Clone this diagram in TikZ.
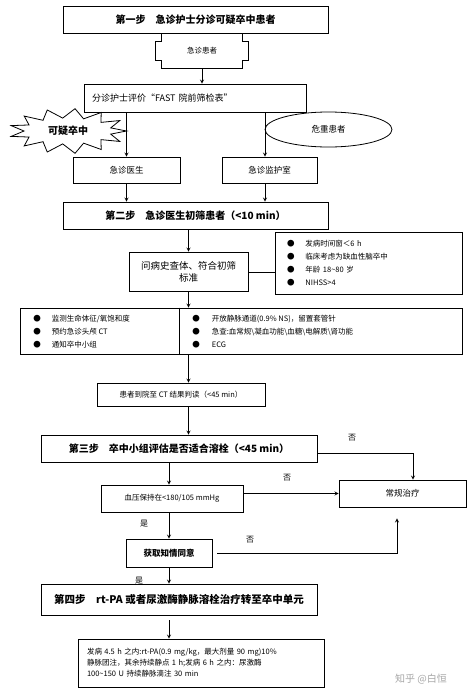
\documentclass[tikz,border=0pt]{standalone}
\usepackage{fontspec}
\setmainfont{Noto Sans CJK SC}
\usetikzlibrary{positioning}
\usetikzlibrary{calc}
\usetikzlibrary{arrows}
\usetikzlibrary{shapes.geometric}
\tikzset{
  box/.style            = { rectangle, inner sep=0pt },
  border/.style         = { line width=0.8pt, draw=black },
  big/.style            = { font=\fontsize{10}{12}\selectfont\bfseries },
  mid/.style            = { font=\fontsize{8.5}{11}\selectfont },
  small/.style          = { font=\fontsize{7.5}{10}\selectfont },
}
\tikzset{
  stage/.style          = { box, border, big },
  plain/.style          = { box, border, mid },
  note/.style           = { box, border, small },
  listing/.style        = { box, font=\fontsize{7.5}{13}\selectfont, align=left },
  answer/.style         = { font=\fontsize{8}{10}\selectfont },
}

\begin{document}
\begin{tikzpicture}[
  x=1pt,y=-1pt,
  >=stealth,line width=0.8pt,black,text=black
]
  \useasboundingbox (0,0) rectangle (474,699);

  % step one
  \node (step1) [stage,minimum width=265pt,minimum height=27pt] at (195.5,19.5)
        {第一步\quad 急诊护士分诊可疑卒中患者};
  \node (pat)   [box,small,minimum width=80pt,minimum height=34pt] at (202,51) {急诊患者};
  \draw [border] (pat.north west) -- (pat.north east) -- ++(0,8) -- ++(6,0)
        -- ($(pat.south east)+(6,-8)$) -- ++(-6,0) -- (pat.south east)
        -- (pat.south west) -- ++(0,-8) -- ++(-6,0)
        -- ($(pat.north west)+(-6,8)$) -- ++(6,0) -- cycle;
  \node (eval)  [plain,font=\fontsize{9}{11}\selectfont,text width=206pt,inner xsep=8pt,
                 minimum height=28pt,align=left] at (195,98)
        {分诊护士评价“FAST 院前筛检表”};
  \node (doc)   [plain,minimum width=107pt,minimum height=26pt] at (126.5,170) {急诊医生};
  \node (icu)   [plain,minimum width=95pt,minimum height=26pt] at (269.5,170) {急诊监护室};
  \node (susp)  [big] at (68,131) {可疑卒中};
  \draw [border] ($(susp)+(0:58.5pt and 22.5pt)$)
        \foreach \i in {0,...,12} {
          -- ($(susp)+({(\i+0.5)*360/13}:44pt and 13pt)$)
          -- ($(susp)+({(\i+1)*360/13}:58.5pt and 22.5pt)$)
        } -- cycle;
  \node (crit)  [ellipse,border,mid,minimum width=127pt,minimum height=35pt] at (328.5,129.5) {危重患者};

  \draw [->] (pat.south) -- (pat.south |- eval.north);
  \draw [->] (eval.south -| doc) -- (doc.north);
  \draw [->] ([xshift=-4.5pt]icu.north |- eval.south) -- ([xshift=-4.5pt]icu.north);

  % step two
  \node (step2) [stage,minimum width=265pt,minimum height=27pt] at (195.5,215.5)
        {第二步\quad 急诊医生初筛患者（<10 min）};
  \draw [->] (doc.south) -- (doc.south |- step2.north);
  \draw [->] ([xshift=-4.5pt]icu.south) -- ([xshift=-4.5pt]icu.south |- step2.north);

  \node (hist)  [plain,font=\fontsize{9.5}{12}\selectfont,align=center,
                 minimum width=119pt,minimum height=39pt] at (188.5,271.5)
        {问病史查体、符合初筛\\标准};
  \node (rule)  [note,text width=163pt,inner xsep=12pt,minimum height=62pt,align=left,
                 font=\fontsize{7.5}{13}\selectfont] at (368.5,263)
        {\begin{tabular}{@{}l@{\hspace{11pt}}l@{}}
           ● & 发病时间窗＜6 h\\
           ● & 临床考虑为缺血性脑卒中\\
           ● & 年龄 18\textasciitilde80 岁\\
           ● & NIHSS>4
         \end{tabular}};
  \draw (hist.east |- 0,272) -- (rule.west |- 0,272);
  \draw [->] (hist.north |- step2.south) -- (hist.north);

  \node (tasks) [box,border,minimum width=442pt,minimum height=46pt] at (241,331) {};
  \draw ($(tasks.north west)+(160,0)$) -- ($(tasks.south west)+(160,0)$);
  \node (taskL) [listing,anchor=west] at (33,332)
        {\begin{tabular}{@{}l@{\hspace{11pt}}l@{}}
           ● & 监测生命体征/氧饱和度\\
           ● & 预约急诊头颅 CT\\
           ● & 通知卒中小组
         \end{tabular}};
  \node (taskR) [listing,anchor=west] at (192,332)
        {\begin{tabular}{@{}l@{\hspace{12pt}}l@{}}
           ● & 开放静脉通道(0.9\% NS)，留置套管针\\
           ● & 急查:血常规\textbackslash 凝血功能\textbackslash 血糖\textbackslash 电解质\textbackslash 肾功能\\
           ● & ECG
         \end{tabular}};
  \draw [->] (hist.south) -- (hist.south |- tasks.north);

  \node (ct)    [note,minimum width=168pt,minimum height=23pt] at (181,394.5)
        {患者到院至 CT 结果判读（<45 min）};
  \draw [->] (hist.south |- tasks.south) -- (hist.south |- ct.north);

  % step three
  \node (step3) [stage,minimum width=276pt,minimum height=27pt] at (179,448.5)
        {第三步\quad 卒中小组评估是否适合溶栓（<45 min）};
  \draw [->] (hist.south |- ct.south) -- (hist.south |- step3.north);

  \node (cure)  [plain,minimum width=127pt,minimum height=27pt] at (402.5,493.5) {常规治疗};
  \node (bp)    [note,minimum width=142pt,minimum height=27pt] at (172,498.5)
        {血压保持在<180/105 mmHg};
  \node (agree) [plain,font=\fontsize{8.5}{11}\selectfont\bfseries,
                 minimum width=86pt,minimum height=28pt] at (169,553) {获取知情同意};

  \draw [->] (step3.east |- 0,453) -| ([xshift=10.5pt]cure.north);
  \node (no1)   [answer] at (352,438) {否};
  \draw [->] (step3.south -| agree) -- (bp.north -| agree);
  \draw [->] (cure.west -| bp.east) -- (cure.west);
  \node (no2)   [answer] at (287,478) {否};
  \draw [->] (bp.south -| agree) -- (agree.north);
  \node (yes1)  [answer] at (144,524) {是};
  \draw [->] ([xshift=5pt]agree.east) -| ([xshift=-5.5pt,yshift=-11pt]cure.south);
  \node (no3)   [answer] at (250,540) {否};

  % step four
  \node (step4) [stage,font=\fontsize{10.5}{12}\selectfont\bfseries,
                 minimum width=276pt,minimum height=31pt] at (179,599.5)
        {第四步\quad rt-PA 或者尿激酶静脉溶栓治疗转至卒中单元};
  \draw [->] (agree.south) -- (agree.south |- step4.north);
  \node (yes2)  [answer] at (139,581) {是};

  \node (dose)  [note,align=left,font=\fontsize{7.5}{11}\selectfont,
                 minimum width=246pt,minimum height=48pt,text width=228pt,inner xsep=9pt] at (201,663)
        {发病 4.5 h 之内:rt-PA(0.9 mg/kg，最大剂量 90 mg)10\%\\
         静脉团注，其余持续静点 1 h;发病 6 h 之内：尿激酶\\
         100\textasciitilde150 U 持续静脉滴注 30 min};
  \draw [->] ([yshift=-5pt]agree.south |- step4.south) -- (agree.south |- dose.north);

  \node (mark)  [font=\fontsize{10}{12}\selectfont,text=black!35] at (421,679) {知乎 @白恒};

\end{tikzpicture}
\end{document}
